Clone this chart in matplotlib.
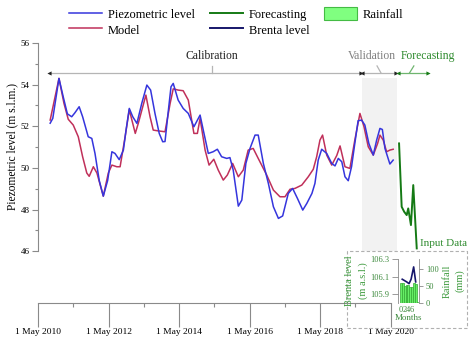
import numpy as np
import pandas as pd
import matplotlib
matplotlib.use('Agg')
import matplotlib.pyplot as plt
import matplotlib.dates as mdates
from matplotlib.patches import Rectangle, Patch
from matplotlib.lines import Line2D

plt.rcParams['font.family'] = ['Liberation Serif', 'DejaVu Serif']

# piezometric level (observed)
obs_dates = ['2010-09-04', '2010-10-01', '2010-12-04', '2011-01-18', '2011-03-01', '2011-04-15',
             '2011-05-18', '2011-07-01', '2011-08-06', '2011-10-03', '2011-11-09', '2011-12-12',
             '2012-01-25', '2012-03-07', '2012-04-21', '2012-06-04', '2012-07-06', '2012-08-19',
             '2012-10-01', '2012-10-28', '2012-12-01', '2013-01-06', '2013-02-18', '2013-04-09',
             '2013-06-01', '2013-07-10', '2013-08-24', '2013-10-07', '2013-11-12', '2013-12-06',
             '2014-01-10', '2014-02-06', '2014-03-01', '2014-04-21', '2014-06-12', '2014-08-04',
             '2014-10-01', '2014-12-04', '2015-01-06', '2015-02-27', '2015-04-18', '2015-06-01',
             '2015-07-15', '2015-09-06', '2015-10-09', '2015-11-12', '2016-01-04', '2016-02-09',
             '2016-03-22', '2016-05-04', '2016-06-25', '2016-07-28', '2016-09-19', '2016-11-10',
             '2017-01-01', '2017-02-22', '2017-04-07', '2017-06-04', '2017-07-19', '2017-09-07',
             '2017-11-01', '2017-12-13', '2018-02-04', '2018-03-07', '2018-04-10', '2018-05-16',
             '2018-07-07', '2018-08-28', '2018-10-01', '2018-11-04', '2018-12-10', '2019-01-12',
             '2019-02-15', '2019-03-21', '2019-04-24', '2019-05-28', '2019-07-03', '2019-08-06',
             '2019-09-16', '2019-11-01', '2019-12-06', '2020-01-09', '2020-02-03', '2020-03-01',
             '2020-04-21', '2020-05-25']
obs_level = [52.15, 52.38, 54.30, 53.40, 52.60, 52.46,
             52.65, 52.94, 52.46, 51.50, 51.42, 50.70,
             49.40, 48.65, 49.40, 50.78, 50.70, 50.40,
             50.86, 51.80, 52.86, 52.46, 52.14, 53.10,
             53.98, 53.74, 52.62, 51.66, 51.26, 51.27,
             52.78, 53.90, 54.06, 53.26, 52.86, 52.62,
             51.98, 52.54, 51.82, 50.70, 50.78, 50.90,
             50.54, 50.46, 50.50, 49.90, 48.17, 48.46,
             50.22, 50.94, 51.58, 51.58, 50.22, 49.26,
             48.14, 47.58, 47.70, 48.78, 49.02, 48.54,
             47.98, 48.30, 48.78, 49.26, 50.38, 50.90,
             50.70, 50.22, 50.10, 50.46, 50.30, 49.58,
             49.39, 50.06, 51.18, 52.27, 52.30, 52.06,
             51.18, 50.62, 51.34, 51.90, 51.85, 50.94,
             50.19, 50.38]

# model
mod_dates = ['2010-09-04', '2010-12-04', '2011-01-25', '2011-03-10', '2011-05-01', '2011-06-22',
             '2011-08-06', '2011-09-18', '2011-10-13', '2011-11-25', '2012-01-01', '2012-03-07',
             '2012-04-28', '2012-06-04', '2012-07-25', '2012-08-28', '2012-10-19', '2012-12-01',
             '2013-02-01', '2013-03-04', '2013-05-22', '2013-07-04', '2013-08-06', '2013-09-28',
             '2013-12-06', '2014-01-28', '2014-03-01', '2014-04-21', '2014-06-12', '2014-08-04',
             '2014-10-01', '2014-11-06', '2014-12-04', '2015-01-25', '2015-03-07', '2015-04-25',
             '2015-06-10', '2015-08-01', '2015-09-12', '2015-11-06', '2016-01-04', '2016-02-24',
             '2016-04-15', '2016-06-06', '2016-07-28', '2016-10-24', '2017-01-01', '2017-03-10',
             '2017-05-01', '2017-06-22', '2017-08-12', '2017-10-22', '2017-12-28', '2018-02-18',
             '2018-03-25', '2018-04-28', '2018-05-25', '2018-07-07', '2018-08-28', '2018-10-19',
             '2018-11-22', '2019-01-12', '2019-03-04', '2019-04-24', '2019-06-16', '2019-07-28',
             '2019-09-10', '2019-11-01', '2019-12-16', '2020-01-09', '2020-02-12', '2020-03-18',
             '2020-04-21', '2020-05-25']
mod_level = [52.30, 54.30, 53.10, 52.34, 52.06, 51.50,
             50.54, 49.76, 49.60, 50.06, 49.76, 48.65,
             49.76, 50.14, 50.06, 50.06, 51.50, 52.80,
             51.66, 52.14, 53.50, 52.46, 51.82, 51.78,
             51.74, 53.10, 53.80, 53.74, 53.71, 53.26,
             51.66, 51.66, 52.38, 50.86, 50.14, 50.42,
             49.90, 49.42, 49.66, 50.22, 49.58, 49.90,
             50.86, 50.94, 50.46, 49.66, 48.94, 48.62,
             48.62, 48.98, 49.02, 49.18, 49.58, 49.94,
             50.54, 51.34, 51.58, 50.62, 50.14, 50.60,
             51.06, 50.06, 49.98, 51.34, 52.62, 51.98,
             51.02, 50.62, 51.18, 51.58, 51.34, 50.78,
             50.86, 50.90]

# forecasting
fc_dates = ['2020-07-25', '2020-08-21', '2020-09-16', '2020-10-12', '2020-10-28',
            '2020-11-25', '2020-12-19', '2021-01-24']
fc_level = [51.18, 48.14, 47.90, 47.74, 48.06, 47.26, 49.18, 46.14]

# inset: input data
rain_months = [0, 1, 2, 3, 4, 5, 6, 7, 8, 9]
rainfall = [59, 59, 50, 53, 53, 47, 47, 59, 56, 4]
brenta_months = [0.7, 3.1, 4.4, 5.5, 6.9, 8.0]
brenta_level = [106.07, 106.04, 106.02, 106.07, 106.21, 106.04]

periods = {'cal': ('2010-08-23', '2019-07-01'),
           'val': ('2019-07-10', '2020-06-25'),
           'fc': ('2020-07-10', '2021-05-19')}
val_span = ('2019-07-06', '2020-07-03')

c_obs = '#3535dd'
c_mod = '#c0305a'
c_fc = '#157a15'
c_br = '#16166a'
c_axis = '#8a8a8a'
c_in = '#3d8a3d'

W, H = 474, 343
fig = plt.figure(figsize=(W / 100, H / 100), dpi=100)
ax = fig.add_axes([38 / W, 1 - 303 / H, (432 - 38) / W, (303 - 43) / H])

d = pd.to_datetime
ax.fill_between(d(list(val_span)), 46, 54.32, color='#f2f2f2', lw=0, zorder=0)
ax.plot(d(obs_dates), obs_level, color=c_obs, lw=1.1, zorder=3)
ax.plot(d(mod_dates), mod_level, color=c_mod, lw=1.1, zorder=2)
ax.plot(d(fc_dates), fc_level, color=c_fc, lw=1.4, zorder=3)

# period arrows
ya = 54.56
for key, col, hc in [('cal', '#b5b5b5', '#222222'), ('val', '#b5b5b5', '#222222'),
                     ('fc', '#6fb56f', c_fc)]:
    a, b = d(list(periods[key]))
    ax.plot([a, b], [ya, ya], color=col, lw=0.9, zorder=1)
    ax.plot([a], [ya], marker='<', ms=3, color=hc, mew=0, zorder=2)
    ax.plot([b], [ya], marker='>', ms=3, color=hc, mew=0, zorder=2)
ax.plot(d(['2015-04-06', '2015-04-06']), [ya, 54.9], color='#b5b5b5', lw=0.9)
ax.text(d('2015-04-06'), 55.1, 'Calibration', ha='center', va='bottom', fontsize=8.4, color='#222222')
ax.plot(d(['2019-12-10', '2020-01-20']), [54.9, ya], color='#b5b5b5', lw=0.9)
ax.text(d('2019-10-20'), 55.1, 'Validation', ha='center', va='bottom', fontsize=8.4, color='#808080')
ax.plot(d(['2020-11-10', '2020-12-25']), [ya, 54.9], color='#6fb56f', lw=0.9)
ax.text(d('2021-05-19'), 55.1, 'Forecasting', ha='center', va='bottom', fontsize=8.4, color='#2e8b2e')
ax.text(d('2021-03-01'), 46.4, 'Input Data', ha='left', va='center', fontsize=8, color='#2e8b2e')

ax.set_xlim(d('2010-05-01'), d('2021-07-01'))
ax.set_ylim(43.52, 56)
for s in ['top', 'right']:
    ax.spines[s].set_visible(False)
ax.spines['left'].set_bounds(46, 56)
ax.spines['bottom'].set_bounds(mdates.date2num(d('2010-05-01')), mdates.date2num(d('2020-05-01')))
for s in ['left', 'bottom']:
    ax.spines[s].set_color(c_axis)
    ax.spines[s].set_linewidth(0.8)
ax.set_yticks([46, 48, 50, 52, 54, 56])
ax.set_yticks([47, 49, 51, 53, 55], minor=True)
ax.set_xticks(d(['2010-05-01', '2012-05-01', '2014-05-01', '2016-05-01', '2018-05-01', '2020-05-01']))
ax.set_xticklabels(['1 May 2010', '1 May 2012', '1 May 2014', '1 May 2016', '1 May 2018', '1 May 2020'])
ax.set_xticks(d(['2011-05-01', '2013-05-01', '2015-05-01', '2017-05-01', '2019-05-01']), minor=True)
ax.tick_params(axis='y', which='major', length=4, width=0.8, color=c_axis, labelsize=6.5, pad=2)
ax.tick_params(axis='y', which='minor', length=2, width=0.8, color=c_axis)
ax.tick_params(axis='x', which='major', length=17, width=0.8, color=c_axis, labelsize=6.8, pad=1)
ax.tick_params(axis='x', which='minor', length=3, width=0.8, color=c_axis)
ax.set_ylabel('Piezometric level (m s.l.m.)', fontsize=8.3)
ax.yaxis.set_label_coords(-0.05, 0.6)

# inset box
box = Rectangle((347 / W, 1 - 328 / H), 120 / W, 77 / H, transform=fig.transFigure,
                fill=False, ls=(0, (3, 2)), lw=0.8, ec='#b0b0b0', zorder=5)
fig.add_artist(box)

axr = fig.add_axes([398 / W, 1 - 303 / H, 21 / W, 44 / H], zorder=6)
axr.bar(rain_months, rainfall, width=1.0, color='#66ee66', edgecolor='#33aa33', lw=0.5)
axr.set_ylim(0, 129)
axr.set_xlim(-1.6, 9.8)
axr.patch.set_visible(False)
axr.set_xticks([0, 2, 4, 6])
axr.tick_params(axis='x', length=0, labelsize=6, pad=2, labelcolor=c_in)
axr.set_xlabel('Months', fontsize=6.5, color=c_in, labelpad=0)

axl = axr.twinx()
axl.plot(brenta_months, brenta_level, color=c_br, lw=1.2)
axl.set_ylim(105.8, 106.3)
axl.yaxis.tick_left()
axl.yaxis.set_label_position('left')
axl.set_yticks([105.9, 106.1, 106.3])
axl.tick_params(axis='y', length=4, width=0.6, color=c_axis, labelsize=6, pad=2, labelcolor=c_in)
axl.set_ylabel('Brenta level\n(m a.s.l.)', fontsize=7.5, color='#3d9a3d', labelpad=2, linespacing=1.5)
for s in ['top', 'right', 'bottom']:
    axl.spines[s].set_visible(False)
axl.spines['left'].set_color(c_axis)
axl.spines['left'].set_linewidth(0.6)

# rainfall axis on the right (after twinx, which moves it to the left)
axr.yaxis.tick_right()
axr.yaxis.set_label_position('right')
axr.set_yticks([0, 50, 100])
axr.tick_params(axis='y', length=3, width=0.6, color=c_axis, labelsize=6, pad=2, labelcolor=c_in)
axr.set_ylabel('Rainfall\n(mm)', fontsize=7.5, color='#3d9a3d', labelpad=3, linespacing=1.4)
for s in ['top', 'left', 'bottom']:
    axr.spines[s].set_visible(False)
axr.spines['right'].set_color(c_axis)
axr.spines['right'].set_linewidth(0.6)

handles = [Line2D([], [], color=c_obs, lw=1.1), Line2D([], [], color=c_mod, lw=1.1),
           Line2D([], [], color=c_fc, lw=1.4), Line2D([], [], color=c_br, lw=1.4),
           Patch(facecolor='#80ff80', edgecolor='#44bb44', lw=0.8)]
labels = ['Piezometric level', 'Model', 'Forecasting', 'Brenta level', 'Rainfall']
fig.legend(handles, labels, ncol=3, loc='upper left', bbox_to_anchor=(63 / W, 1 - 1 / H),
           frameon=False, fontsize=9, borderpad=0, handlelength=2.6, handleheight=1.25,
           handletextpad=0.5, labelspacing=0.15, columnspacing=1.2)

fig.savefig('out.png', dpi=100)
